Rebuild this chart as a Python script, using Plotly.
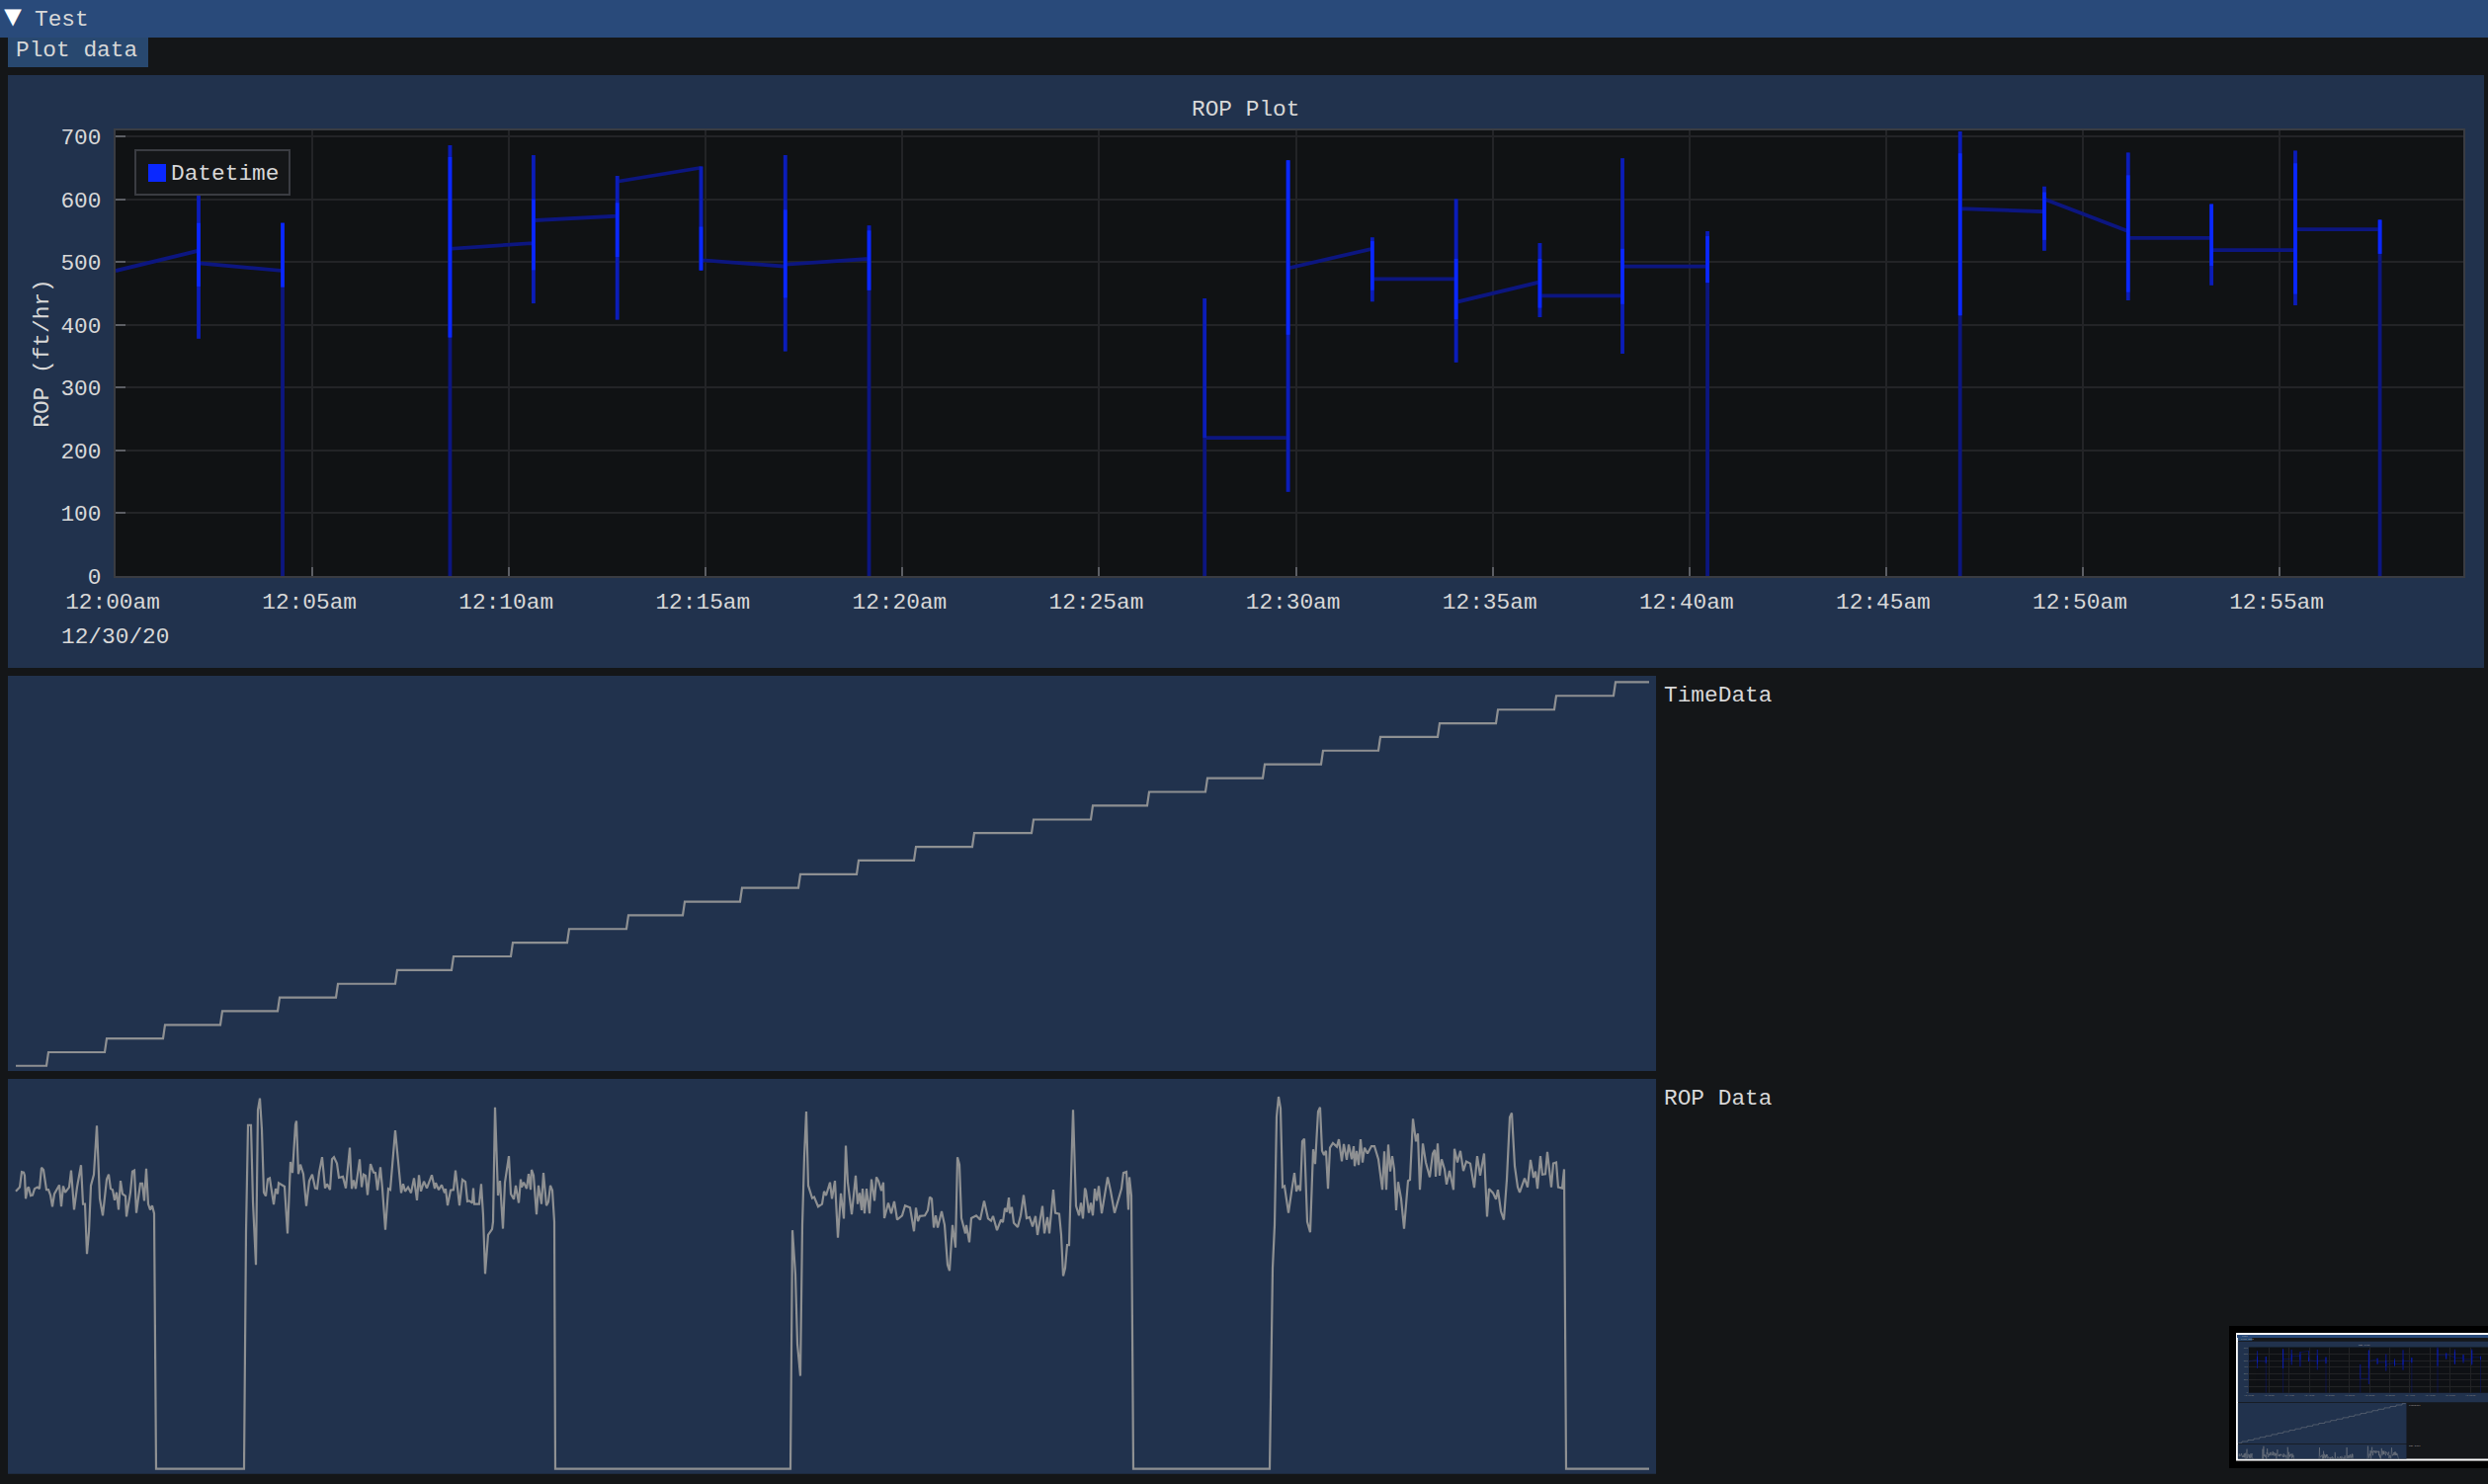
import pandas as pd
import plotly.graph_objects as go

W, H = 2518, 1502

# ---- ROP Plot: one vertical sweep per time step (minutes after 12:00am, ft/hr)
start_time = [0.0]
start_rop = [486]
step_time = [2.11, 4.245, 8.5, 10.62, 12.75, 14.88, 17.02, 19.15, 27.68, 29.8, 31.94,
             34.07, 36.2, 38.3, 40.46, 46.88, 49.02, 51.15, 53.27, 55.4, 57.55]
step_enter = [518, 486, 0, 530, 573, 650, 493, 505, 0, 220, 521, 473, 468, 446, 493, 0, 580, 549, 538, 519, 552]
step_exit = [498, 0, 521, 566, 628, 503, 496, 0, 220, 490, 473, 436, 446, 493, 0, 585, 600, 538, 519, 552, 0]
step_high = [650, 562, 686, 670, 637, 652, 670, 558, 442, 662, 539, 600, 530, 665, 549, 708, 620, 674, 592, 677, 567]
step_low = [378, 0, 0, 434, 408, 486, 358, 0, 0, 134, 437, 340, 412, 354, 0, 0, 518, 439, 463, 431, 0]
step_mid_low = [378, 460, 380, 434, 408, 486, 358, 455, 220, 134, 437, 340, 412, 354, 467, 415, 518, 439, 463, 431, 513]
step_core_high = [562, 562, 667, 600, 594, 556, 583, 550, 220, 662, 533, 505, 505, 521, 541, 673, 611, 638, 592, 657, 567]
step_core_low = [461, 460, 380, 487, 508, 487, 443, 455, 220, 384, 455, 409, 427, 433, 467, 415, 535, 452, 494, 449, 513]

y_ticks = [0, 100, 200, 300, 400, 500, 600, 700]
x_tick_minutes = [0, 5, 10, 15, 20, 25, 30, 35, 40, 45, 50, 55]
x_tick_labels = ["12:00am", "12:05am", "12:10am", "12:15am", "12:20am", "12:25am", "12:30am",
                 "12:35am", "12:40am", "12:45am", "12:50am", "12:55am"]

# ---- TimeData: sample where each stair ends, and the stair levels (minutes)
stair_end_sample = [31, 90, 149, 207, 265, 324, 384, 441, 501, 558, 618, 675, 733, 792, 851, 909,
                    968, 1028, 1088, 1145, 1204, 1262, 1321, 1379, 1439, 1498, 1557, 1617]
stair_level = [0, 2.11, 4.245, 6.37, 8.5, 10.62, 12.75, 14.88, 17.02, 19.15, 21.28, 23.41, 25.54, 27.68, 29.8,
               31.94, 34.07, 36.2, 38.3, 40.46, 42.6, 44.74, 46.88, 49.02, 51.15, 53.27, 55.4, 57.55, 59.68]
stair_last_sample = [1653]

# ---- ROP Data: (sample, ft/hr)
rop_sample = [0, 4, 6, 8, 9, 10, 12, 13, 15, 17, 19, 22, 24, 26, 28, 31, 33, 35, 37, 39, 44, 46, 48, 50, 54, 56, 59, 62,
              66, 68, 70, 72, 74, 76, 79, 82, 85, 88, 92, 94, 96, 98, 100, 102, 104, 106, 108, 111, 112, 116, 118, 120,
              122, 126, 128, 130, 132, 134, 136, 138, 140, 142, 231,
              233, 235, 238, 240, 243, 245, 247, 249, 251, 253, 255, 257, 261, 263, 265, 266, 272, 275, 278, 280, 283,
              284, 286, 288, 291, 294, 297, 300, 303, 305, 307, 310, 313, 315, 318, 320, 322, 325, 327, 331, 334, 338,
              340, 342, 344, 348, 350, 352, 354, 356, 359, 362, 364, 366, 369, 371, 374, 377, 379, 384, 387, 390, 392,
              394, 397, 400, 403, 406, 408, 410, 413, 416, 421, 424, 425, 428, 431, 434, 435, 437, 440, 443, 445, 449,
              452, 455, 457, 459, 462, 463, 464, 469, 471, 473, 475, 478, 482, 483, 485, 488, 490, 493, 495, 499, 501,
              504, 506, 509, 511, 512, 514, 517, 519, 521, 522, 524, 527, 529, 532, 534, 537, 539, 541, 543, 545, 546, 784,
              786, 789, 791, 794, 796, 798, 800, 802, 806, 808, 812, 816, 818, 820, 824, 826, 829, 832, 835, 838, 840,
              842, 846, 850, 852, 854, 856, 857, 859, 861, 864, 866, 869, 871, 873, 876, 878, 879, 883, 886, 889, 892,
              897, 900, 905, 909, 911, 913, 915, 920, 923, 925, 927, 929, 931, 933, 937, 940, 943, 945, 948, 951, 953,
              955, 957, 961, 962, 965, 967, 972, 976, 980, 984, 987, 989, 993, 997, 999, 1001, 1003, 1005, 1006, 1008,
              1010, 1014, 1017, 1020, 1023, 1026, 1029, 1032, 1034, 1039, 1041, 1044, 1046, 1050, 1052, 1056, 1058, 1060,
              1062, 1064, 1066, 1070, 1073, 1076, 1078, 1080, 1082, 1083, 1086, 1088, 1090, 1092, 1094, 1096, 1099, 1105,
              1108, 1112, 1119, 1121, 1124, 1126, 1127, 1129, 1131, 1269,
              1272, 1274, 1276, 1278, 1280, 1282, 1284, 1288, 1291, 1294, 1296, 1298, 1300, 1302, 1304, 1307, 1310, 1313,
              1315, 1318, 1320, 1322, 1324, 1326, 1328, 1330, 1333, 1337, 1339, 1342, 1344, 1347, 1349, 1352, 1354, 1355,
              1357, 1359, 1361, 1363, 1365, 1368, 1372, 1375, 1379, 1383, 1385, 1387, 1389, 1391, 1393, 1395, 1397, 1399,
              1402, 1405, 1409, 1411, 1414, 1417, 1419, 1421, 1424, 1427, 1431, 1434, 1436, 1437, 1439, 1441, 1443, 1446,
              1448, 1451, 1455, 1456, 1459, 1462, 1465, 1468, 1472, 1476, 1479, 1482, 1486, 1489, 1491, 1495, 1498, 1500,
              1503, 1506, 1509, 1512, 1514, 1517, 1520, 1522, 1527, 1530, 1533, 1536, 1538, 1540, 1543, 1545, 1548, 1550,
              1554, 1556, 1559, 1561, 1565, 1567, 1569, 1653]
rop_value = [528, 536, 565, 564, 558, 514, 534, 536, 520, 521, 533, 536, 533, 573, 569, 531, 531, 521, 499, 523, 540, 499,
             538, 526, 536, 568, 493, 536, 578, 504, 504, 409, 451, 539, 560, 653, 514, 482, 551, 560, 533, 531, 511, 526,
             493, 548, 523, 519, 480, 526, 566, 568, 487, 543, 543, 510, 571, 504, 493, 501, 486, 0, 0,
             451, 654, 654, 508, 388, 683, 705, 645, 526, 519, 551, 553, 503, 533, 523, 544, 537, 448, 584, 563, 655,
             662, 561, 579, 561, 500, 548, 560, 534, 533, 564, 593, 534, 542, 531, 589, 593, 581, 554, 556, 534, 611,
             533, 549, 533, 589, 536, 560, 558, 521, 580, 564, 563, 530, 574, 533, 455, 533, 531, 644, 576, 525, 542,
             528, 536, 525, 553, 511, 559, 528, 547, 534, 559, 533, 544, 531, 540, 525, 533, 501, 530, 531, 568, 501,
             550, 546, 509, 510, 506, 534, 504, 504, 542, 482, 371, 445, 456, 470, 688, 520, 548, 457, 545, 595, 523,
             513, 539, 506, 551, 536, 545, 533, 561, 531, 569, 558, 484, 539, 504, 563, 501, 508, 539, 530, 470, 0, 0,
             454, 370, 238, 177, 464, 595, 680, 539, 515, 517, 499, 504, 528, 520, 545, 514, 548, 440, 524, 476, 615,
             545, 484, 558, 504, 525, 492, 533, 486, 533, 486, 551, 510, 555, 548, 529, 545, 477, 506, 486, 509, 474,
             482, 501, 497, 452, 497, 471, 481, 482, 492, 517, 514, 459, 482, 459, 490, 464, 388, 377, 464, 421, 593,
             579, 477, 448, 464, 431, 477, 482, 474, 510, 476, 472, 481, 454, 474, 469, 496, 489, 516, 486, 498,
             468, 460, 482, 521, 477, 479, 461, 481, 445, 500, 448, 479, 448, 531, 487, 485, 445, 367,
             382, 426, 426, 683, 500, 482, 506, 476, 534, 529, 487, 506, 482, 533, 510, 538, 486, 555,
             529, 487, 533, 563, 565, 493, 555, 520, 0, 0,
             382, 464, 670, 708, 686, 536, 538, 487, 526, 563, 528, 539, 529, 623, 628, 470, 450, 608,
             580, 680, 688, 605, 597, 605, 533, 611, 620, 613, 627, 585, 618, 588, 617, 589, 614, 576,
             605, 578, 627, 583, 611, 600, 614, 614, 589, 531, 604, 531, 617, 566, 595, 570, 492, 546,
             514, 457, 548, 550, 666, 623, 638, 531, 619, 583, 555, 600, 607, 556, 619, 558, 589, 570,
             541, 567, 531, 609, 583, 605, 567, 585, 581, 535, 595, 558, 600, 480, 533, 525, 513, 531,
             490, 474, 551, 669, 677, 576, 536, 526, 553, 536, 588, 554, 566, 533, 595, 560, 561, 603,
             536, 581, 583, 536, 534, 570, 0, 0]

BG = "#141618"
PANEL = "#21324d"
PLOT = "#101214"
FRAME = "#3a3c42"
GRID = "#232427"
TEXT = "#d8d8d8"
GRAY = "#8e9092"
DARK = "#0c1680"
MID = "#0b1db8"
BRIGHT = "#0a28ff"
FONT = "Liberation Mono"
BASE = pd.Timestamp("2020-12-30 00:00")


def stamp(minutes):
    return BASE + pd.Timedelta(minutes=minutes)


def xdom(a, b):
    return [a / W, b / W]


def ydom(top, bottom):
    return [1 - bottom / H, 1 - top / H]


def rect(x0, y0, x1, y1, fill=None, line=None, lw=0, layer="below"):
    return dict(type="rect", xref="paper", yref="paper", x0=x0 / W, x1=min(x1, W) / W,
                y0=1 - y0 / H, y1=1 - y1 / H, fillcolor=fill or "rgba(0,0,0,0)",
                line=dict(color=line or "rgba(0,0,0,0)", width=lw), layer=layer)


def label(x, y, text, size=22.8, anchor="center", color=TEXT, angle=0):
    return dict(xref="paper", yref="paper", x=x / W, y=1 - y / H, text=text, showarrow=False,
                xanchor=anchor, yanchor="middle", textangle=angle,
                font=dict(family=FONT, size=size, color=color))


# polyline for the ROP Plot, broken wherever the value sits on the zero baseline
dark_x, dark_y = [stamp(start_time[0])], [start_rop[0]]
mid_x, mid_y, core_x, core_y = [], [], [], []
for i, t in enumerate(step_time):
    ts = stamp(t)
    if step_enter[i] == 0 and i > 0:
        dark_x.append(None)
        dark_y.append(None)
    dark_x += [ts, ts, ts, ts]
    dark_y += [step_enter[i], step_high[i], step_low[i], step_exit[i]]
    mid_x += [ts, ts, None]
    mid_y += [step_high[i], step_mid_low[i], None]
    core_x += [ts, ts, None]
    core_y += [step_core_high[i], step_core_low[i], None]

stair_x, stair_y = [], []
begin = 0
for i, end in enumerate(stair_end_sample + stair_last_sample):
    stair_x += [begin, end]
    stair_y += [stair_level[i], stair_level[i]]
    begin = end + 2

fig = go.Figure()


def add_rop_plot(xa, ya, scale=1.0, opacity=1.0):
    fig.add_trace(go.Scatter(x=dark_x, y=dark_y, mode="lines", name="Datetime", xaxis=xa, yaxis=ya, opacity=opacity,
                             line=dict(color=DARK, width=3.8 * scale)))
    fig.add_trace(go.Scatter(x=mid_x, y=mid_y, mode="lines", name="Datetime", xaxis=xa, yaxis=ya, opacity=opacity,
                             line=dict(color=MID, width=3.6 * scale)))
    fig.add_trace(go.Scatter(x=core_x, y=core_y, mode="lines", name="Datetime", xaxis=xa, yaxis=ya, opacity=opacity,
                             line=dict(color=BRIGHT, width=3.6 * scale)))


def add_strips(xa2, ya2, xa3, ya3, lw, color=GRAY):
    fig.add_trace(go.Scatter(x=stair_x, y=stair_y, mode="lines", name="TimeData", xaxis=xa2, yaxis=ya2,
                             line=dict(color=color, width=lw)))
    fig.add_trace(go.Scatter(x=rop_sample, y=rop_value, mode="lines", name="ROP Data", xaxis=xa3, yaxis=ya3,
                             line=dict(color=color, width=lw)))


add_rop_plot("x", "y")
add_strips("x2", "y2", "x3", "y3", 2.2)

# thumbnail copy, same data at a tenth of the size
S = 0.1023
OX, OY = 2264, 1350


def mx(v):
    return OX + S * v


def my(v):
    return OY + S * v


add_rop_plot("x4", "y4", S * 1.8, opacity=0.65)
add_strips("x5", "y5", "x6", "y6", 0.5, color="#7c8088")

hidden = dict(visible=False, showgrid=False, zeroline=False, automargin=False)
tickvals = [stamp(m) for m in x_tick_minutes]
right_min = 59.67

layout = dict(
    width=W, height=H, margin=dict(l=0, r=0, t=0, b=0, pad=0), autosize=False, showlegend=False,
    paper_bgcolor=BG, plot_bgcolor="rgba(0,0,0,0)", font=dict(family=FONT, color=TEXT),
    xaxis=dict(domain=xdom(117, 2493), anchor="y", type="date", range=[stamp(0), stamp(right_min)], automargin=False,
               tickmode="array", tickvals=tickvals, ticktext=x_tick_labels, ticks="inside", ticklen=9,
               tickcolor="#5c5e64", tickwidth=1.5, gridcolor=GRID, gridwidth=1.5, showline=True, mirror=True,
               linecolor=FRAME, linewidth=2, zeroline=False, ticklabelstandoff=4, ticklabelshift=-3,
               tickfont=dict(family=FONT, size=22.8, color=TEXT)),
    yaxis=dict(domain=ydom(132, 583), anchor="x", range=[0, 709.4], tickmode="array", tickvals=y_ticks, automargin=False,
               ticks="inside", ticklen=10, tickcolor="#5c5e64", tickwidth=1.5, gridcolor=GRID, gridwidth=1.5,
               showline=True, mirror=True, linecolor=FRAME, linewidth=2, zeroline=False, ticklabelstandoff=8,
               tickfont=dict(family=FONT, size=22.8, color=TEXT),
               title=dict(text="ROP (ft/hr)", standoff=5, font=dict(family=FONT, size=22.8, color=TEXT))),
    xaxis2=dict(domain=xdom(8, 1676), anchor="y2", range=[-8, 1660], **hidden),
    yaxis2=dict(domain=ydom(684, 1084), anchor="x2", range=[-0.81, 60.66], **hidden),
    xaxis3=dict(domain=xdom(8, 1676), anchor="y3", range=[-8, 1660], **hidden),
    yaxis3=dict(domain=ydom(1092, 1491.7), anchor="x3", range=[-9.4, 741.9], **hidden),
    xaxis4=dict(domain=xdom(mx(117), 2518), anchor="y4", type="date", range=[stamp(0), stamp(59.4)], automargin=False,
                tickmode="array", tickvals=tickvals, ticktext=x_tick_labels, ticks="", gridcolor=GRID,
                gridwidth=0.5, zeroline=False, tickfont=dict(family=FONT, size=2.4, color="#8a8a8a")),
    yaxis4=dict(domain=ydom(my(132), my(583)), anchor="x4", range=[0, 709.4], tickmode="array", tickvals=y_ticks,
                automargin=False, ticks="", gridcolor=GRID, gridwidth=0.5, zeroline=False,
                tickfont=dict(family=FONT, size=2.4, color="#8a8a8a")),
    xaxis5=dict(domain=xdom(mx(8), mx(1676)), anchor="y5", range=[-8, 1660], **hidden),
    yaxis5=dict(domain=ydom(my(684), my(1084)), anchor="x5", range=[-0.81, 60.66], **hidden),
    xaxis6=dict(domain=xdom(mx(8), mx(1676)), anchor="y6", range=[-8, 1660], **hidden),
    yaxis6=dict(domain=ydom(my(1092), 1477), anchor="x6", range=[462, 741.9], **hidden),
    shapes=[
        rect(0, 0, W, 38, fill="#294a7a"),
        rect(8, 38, 150, 68, fill="#28486f"),
        rect(8, 76, 2514, 676, fill=PANEL),
        rect(117, 132, 2493, 583, fill=PLOT),
        rect(8, 684, 1676, 1084, fill=PANEL),
        rect(8, 1092, 1676, 1491.7, fill=PANEL),
        rect(137, 152, 293, 197, fill=BG, line=FRAME, lw=2, layer="above"),
        rect(150, 166, 168, 184, fill=BRIGHT, layer="above"),
        # thumbnail
        rect(2256, 1342, W, 1486, fill="#000000"),
        rect(2263, 1349, W, 1478.5, fill="#ffffff"),
        rect(2265, 1351, W, 1476.5, fill="#15171a"),
        rect(OX, OY + 1, W, my(38), fill="#294a7a"),
        rect(mx(8), my(38), mx(150), my(68), fill="#28486f"),
        rect(mx(8), my(76), W, my(676), fill=PANEL),
        rect(mx(117), my(132), W, my(583), fill=PLOT),
        rect(mx(8), my(684), mx(1676), my(1084), fill=PANEL),
        rect(mx(8), my(1092), mx(1676), 1476.5, fill=PANEL),
    ],
    annotations=[
        label(13, 18, "▼", size=30, color="#ffffff"),
        label(33, 20, "Test", anchor="left"),
        label(14, 51, "Plot data", anchor="left"),
        label(1260, 111, "ROP Plot"),
        label(171, 176, "Datetime", anchor="left"),
        label(116, 645, "12/30/20"),
        label(1682, 704, "TimeData", anchor="left"),
        label(1682, 1112, "ROP Data", anchor="left"),
        label(mx(33), my(20), "Test", size=2.4, anchor="left", color="#a8a8a8"),
        label(mx(17), my(51), "Plot data", size=2.4, anchor="left", color="#a8a8a8"),
        label(mx(1260), my(110), "ROP Plot", size=2.4, color="#a8a8a8"),
        label(mx(1685), my(704), "TimeData", size=2.4, anchor="left", color="#a8a8a8"),
        label(mx(1685), my(1112), "ROP Data", size=2.4, anchor="left", color="#a8a8a8"),
    ],
)
fig.update_layout(**layout)

fig.write_html("out.html", config={"displayModeBar": False},
               post_script="document.body.style.margin='0';document.body.style.background='#141618';"
                           "document.documentElement.style.overflow='hidden';")
